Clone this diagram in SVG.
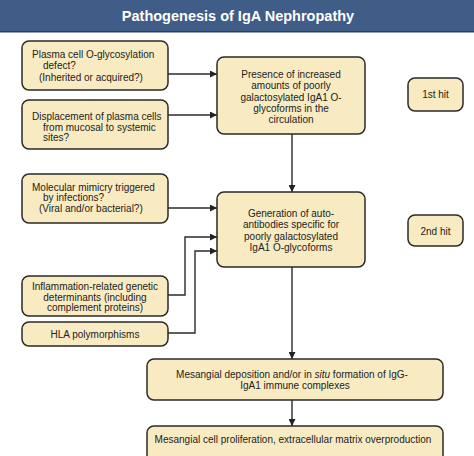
<svg xmlns="http://www.w3.org/2000/svg" width="474" height="456" viewBox="0 0 474 456">
<defs>
<marker id="ah" viewBox="0 0 10 10" refX="10" refY="5" markerWidth="7" markerHeight="7" markerUnits="userSpaceOnUse" orient="auto">
<path d="M0,0 L10,5 L0,10 z" fill="#222"/>
</marker>
</defs>
<style>
.box{fill:#f8ebc2;stroke:#2a2a2a;stroke-width:1.5}
.t{font-family:"Liberation Sans",Arial,sans-serif;font-size:10px;fill:#222}
.c{text-anchor:middle}
.con{fill:none;stroke:#2a2a2a;stroke-width:1.4}
</style>
<rect width="474" height="456" fill="#fff"/>
<g id="title">
<rect x="0" y="0" width="474" height="31" fill="#3f5d86"/>
<rect x="0" y="31" width="474" height="1.5" fill="#2c3f5c"/>
<text x="238" y="20.5" text-anchor="middle" font-family="Liberation Sans,Arial,sans-serif" font-weight="bold" font-size="14.5" fill="#fff">Pathogenesis of IgA Nephropathy</text>
</g>
<g id="connectors">
<path class="con" d="M168,74 H217" marker-end="url(#ah)"/>
<path class="con" d="M168,115 H217" marker-end="url(#ah)"/>
<path class="con" d="M292,134 V192" marker-end="url(#ah)"/>
<path class="con" d="M168,208 H217" marker-end="url(#ah)"/>
<path class="con" d="M168,295 H185 V237 H217" marker-end="url(#ah)"/>
<path class="con" d="M168,333 H195 V251 H217" marker-end="url(#ah)"/>
<path class="con" d="M292,267 V359" marker-end="url(#ah)"/>
<path class="con" d="M292,400 V426" marker-end="url(#ah)"/>
</g>
<g id="n1">
<rect class="box" x="22" y="41" width="146" height="49" rx="7"/>
<text class="t" x="32" y="57.5">Plasma cell O-glycosylation</text>
<text class="t" x="43" y="69">defect?</text>
<text class="t" x="39" y="81">(Inherited or acquired?)</text>
</g>
<g id="n2">
<rect class="box" x="22" y="100" width="146" height="49" rx="7"/>
<text class="t" x="32" y="120">Displacement of plasma cells</text>
<text class="t" x="43" y="130.5">from mucosal to systemic</text>
<text class="t" x="43" y="141">sites?</text>
</g>
<g id="n3">
<rect class="box" x="217" y="57" width="148" height="77" rx="7"/>
<text class="t c" x="291" y="77.5">Presence of increased</text>
<text class="t c" x="291" y="89">amounts of poorly</text>
<text class="t c" x="291" y="100.5">galactosylated IgA1 O-</text>
<text class="t c" x="291" y="112">glycoforms in the</text>
<text class="t c" x="291" y="123">circulation</text>
</g>
<g id="hit1">
<rect class="box" x="408" y="78" width="55" height="33" rx="7"/>
<text class="t c" x="435.5" y="98">1st hit</text>
</g>
<g id="n4">
<rect class="box" x="22" y="174" width="146" height="49" rx="7"/>
<text class="t" x="32" y="190.5">Molecular mimicry triggered</text>
<text class="t" x="43" y="201">by infections?</text>
<text class="t" x="39" y="211.5">(Viral and/or bacterial?)</text>
</g>
<g id="n5">
<rect class="box" x="217" y="192" width="148" height="75" rx="7"/>
<text class="t c" x="291" y="216.5">Generation of auto-</text>
<text class="t c" x="291" y="228">antibodies specific for</text>
<text class="t c" x="291" y="239.5">poorly galactosylated</text>
<text class="t c" x="291" y="250.5">IgA1 O-glycoforms</text>
</g>
<g id="hit2">
<rect class="box" x="408" y="215" width="55" height="31" rx="7"/>
<text class="t c" x="435.5" y="234.5">2nd hit</text>
</g>
<g id="n6">
<rect class="box" x="22" y="276" width="146" height="40" rx="7"/>
<text class="t c" x="95" y="289.5">Inflammation-related genetic</text>
<text class="t c" x="95" y="300.5">determinants (including</text>
<text class="t c" x="95" y="311">complement proteins)</text>
</g>
<g id="n7">
<rect class="box" x="22" y="322" width="146" height="24" rx="7"/>
<text class="t c" x="95" y="337.5">HLA polymorphisms</text>
</g>
<g id="n8">
<rect class="box" x="147" y="359" width="296" height="41" rx="7"/>
<text class="t c" x="292" y="377.5">Mesangial deposition and/or in <tspan font-style="italic">situ</tspan> formation of IgG-</text>
<text class="t c" x="295" y="388.5">IgA1 immune complexes</text>
</g>
<g id="n9">
<rect class="box" x="147" y="426" width="296" height="40" rx="7"/>
<text class="t c" x="293" y="442.5">Mesangial cell proliferation, extracellular matrix overproduction</text>
</g>
</svg>
